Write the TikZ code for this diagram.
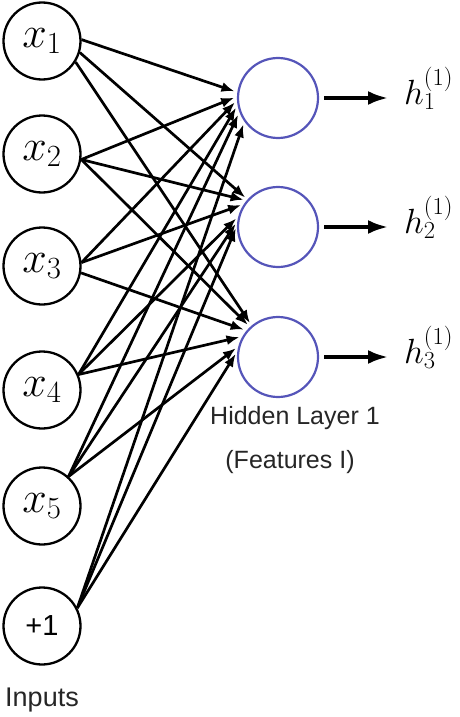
\RequirePackage{fix-cm}
\documentclass[tikz,border=0pt]{standalone}
\usepackage{fontspec}
\newfontfamily\sansf{Liberation Sans}
\usetikzlibrary{arrows.meta}
\definecolor{hidblue}{RGB}{85,85,185}
\begin{document}
\begin{tikzpicture}[x=1pt,y=-1pt,
  inp/.style={circle,draw=black,line width=2.3pt,minimum size=77pt,inner sep=0pt,font=\fontsize{44}{48}\selectfont},
  hid/.style={circle,draw=hidblue,line width=2.2pt,minimum size=80pt,inner sep=0pt},
  conn/.style={line width=2.7pt,-{Latex[length=13pt,width=10pt]},shorten >=3pt},
  outarr/.style={line width=3.5pt,-{Latex[length=20pt,width=14pt]},shorten <=5pt},
  lab/.style={font=\sansf\fontsize{25}{28}\selectfont,text=black!85,inner sep=0pt},
  hlab/.style={font=\fontsize{35}{38}\selectfont,anchor=base west,inner sep=0pt}]
\useasboundingbox (0,0) rectangle (459,717);
% input nodes
\node[inp] (x1) at (42,41)  {$x_1$};
\node[inp] (x2) at (42,154) {$x_2$};
\node[inp] (x3) at (42,266) {$x_3$};
\node[inp] (x4) at (42,390) {$x_4$};
\node[inp] (x5) at (42,506) {$x_5$};
\node[inp,font=\sansf\fontsize{29}{31}\selectfont] (b) at (42,626) {+1};
% hidden nodes
\node[hid] (h1) at (278,98) {};
\node[hid] (h2) at (278,227) {};
\node[hid] (h3) at (278,357) {};
% connections
\draw[conn] (x1.2)   -- (h1.172);
\draw[conn] (x1.-17) -- (h2.138);
\draw[conn] (x1.-32) -- (h3.130);
\draw[conn] (x2.-8)  -- (h1.178);
\draw[conn] (x2.-8)  -- (h2.140);
\draw[conn] (x2.-8)  -- (h3.133);
\draw[conn] (x3.5)   -- (h1.183);
\draw[conn] (x3.5)   -- (h2.146);
\draw[conn] (x3.-10) -- (h3.140);
\draw[conn] (x4.23)  -- (h1.190);
\draw[conn] (x4.23)  -- (h2.165);
\draw[conn] (x4.23)  -- (h3.150);
\draw[conn] (x5.48)  -- (h1.200);
\draw[conn] (x5.48)  -- (h2.172);
\draw[conn] (x5.48)  -- (h3.165);
\draw[conn] (b.27)   -- (h1.215);
\draw[conn] (b.27)   -- (h2.178);
\draw[conn] (b.27)   -- (h3.172);
% outputs
\coordinate (o1) at (388,98);
\coordinate (o2) at (388,227);
\coordinate (o3) at (388,357);
\draw[outarr] (h1.east) -- (o1);
\draw[outarr] (h2.east) -- (o2);
\draw[outarr] (h3.east) -- (o3);
\node[hlab] (l1) at (404,104) {$h_1^{(1)}$};
\node[hlab] (l2) at (404,233) {$h_2^{(1)}$};
\node[hlab] (l3) at (404,363) {$h_3^{(1)}$};
% labels
\node[lab] (hl) at (295,418) {Hidden Layer 1};
\node[lab] (fl) at (290,462) {(Features I)};
\node[lab,font=\sansf\fontsize{27}{30}\selectfont] (il) at (42,700) {Inputs};
\end{tikzpicture}
\end{document}
